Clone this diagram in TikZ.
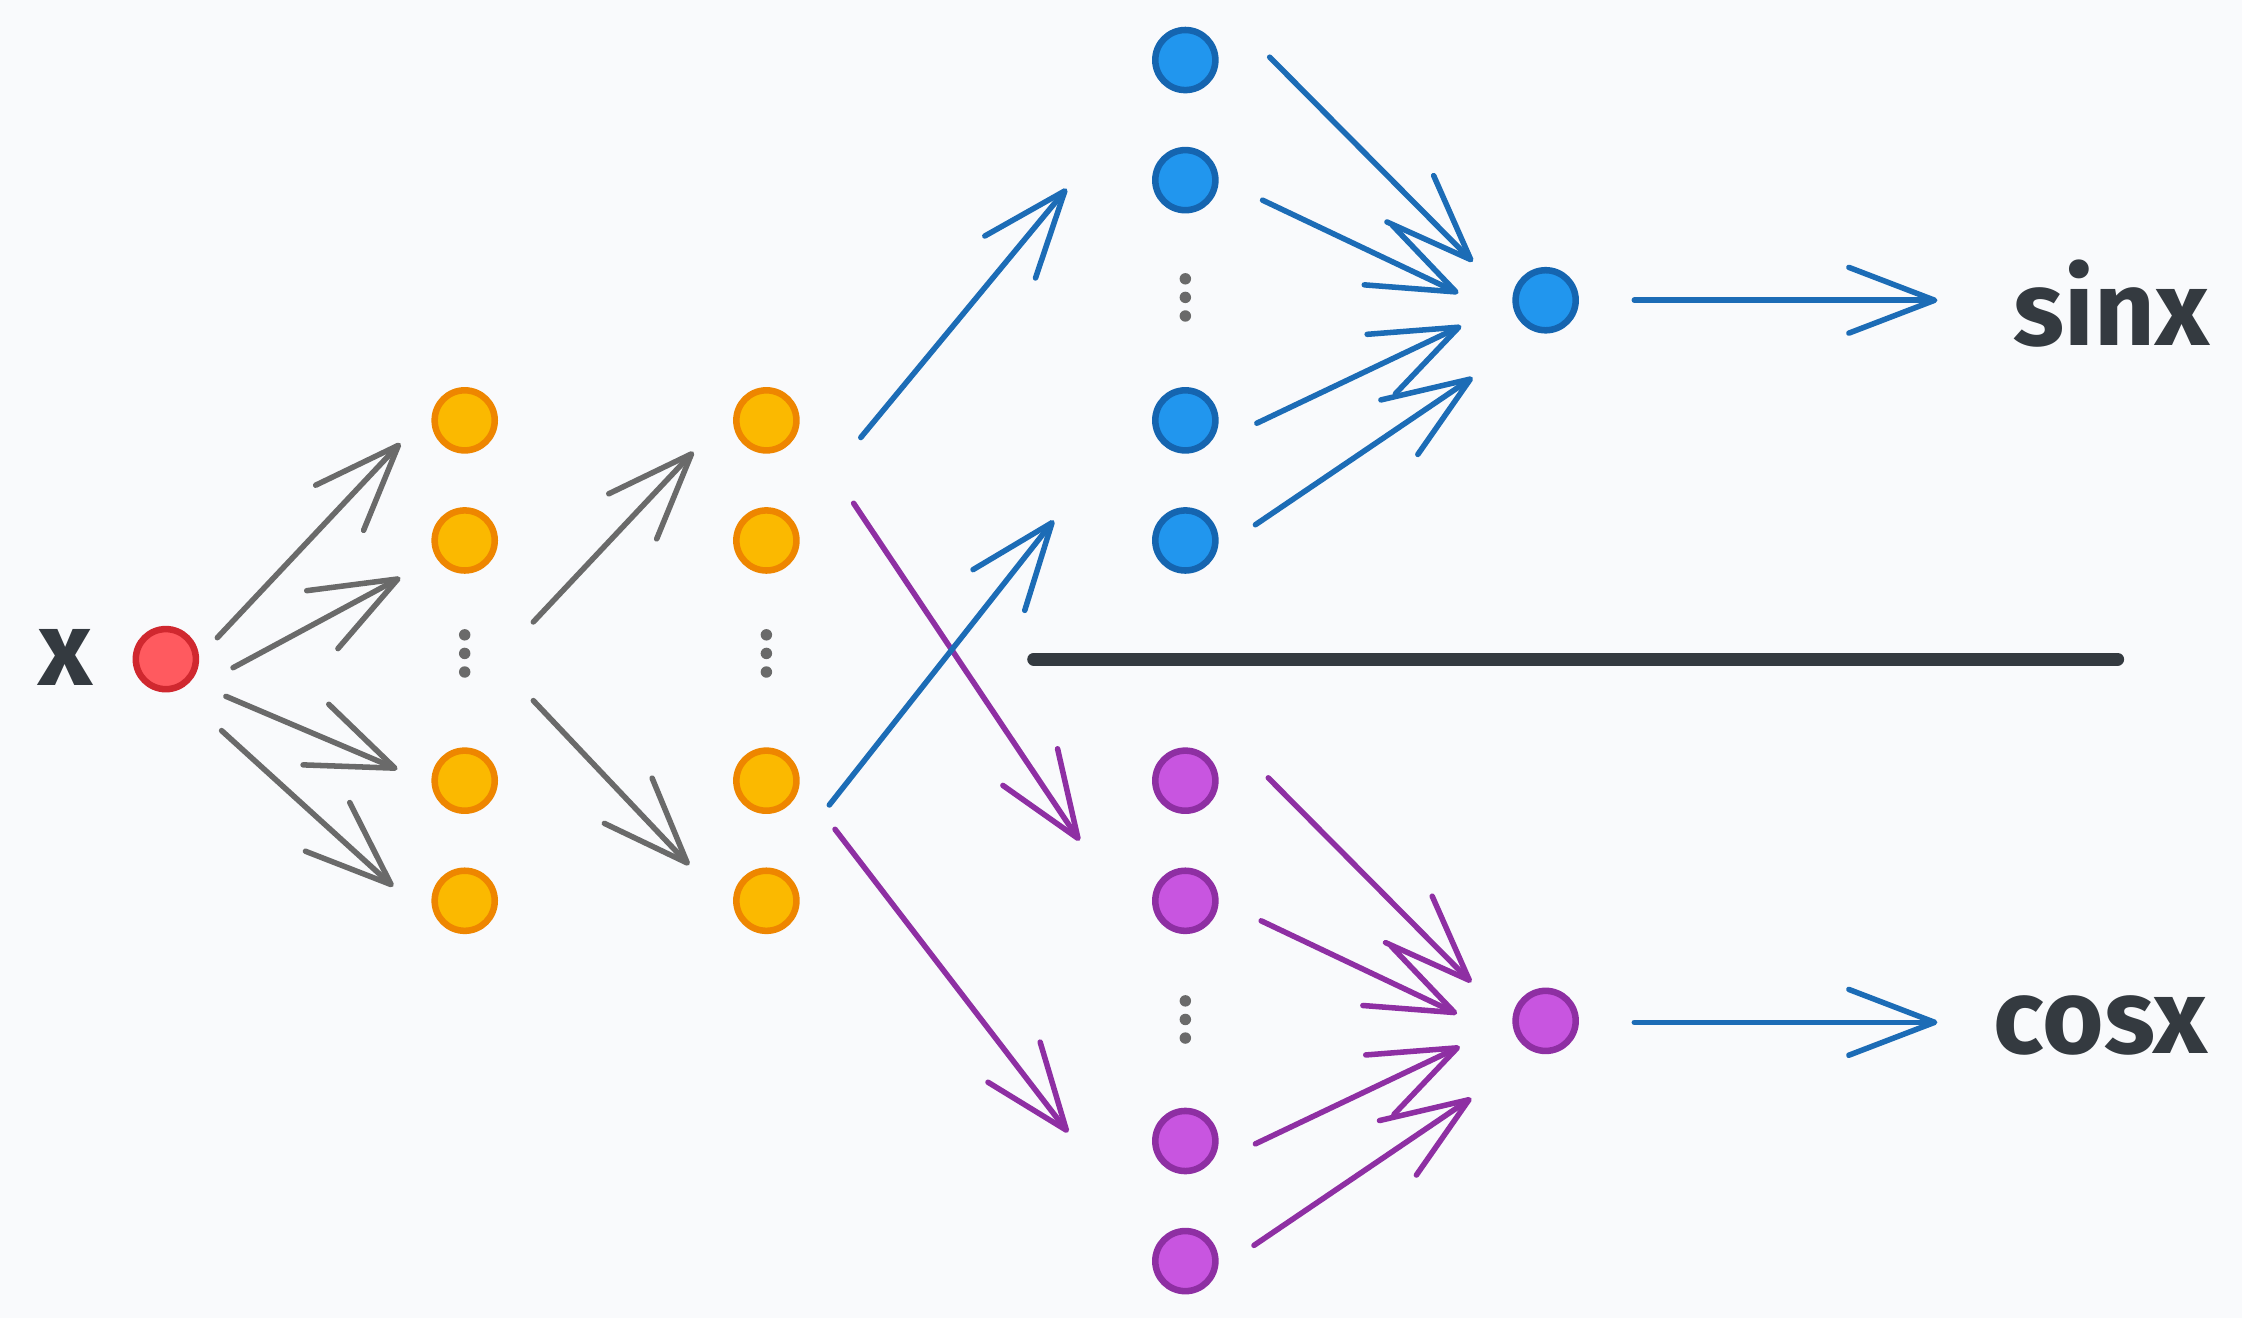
\documentclass[tikz,border=0pt]{standalone}
\usepackage{fontspec}
\setmainfont{Fira Sans}
\usetikzlibrary{arrows.meta}
\definecolor{bg}{HTML}{F9FAFC}
\definecolor{gr}{HTML}{6A6A6A}
\definecolor{bl}{HTML}{1C6CB6}
\definecolor{pu}{HTML}{8E2FA3}
\definecolor{dk}{HTML}{343A40}
\definecolor{rf}{HTML}{FF5A5F}\definecolor{rb}{HTML}{D0282F}
\definecolor{yf}{HTML}{FBB900}\definecolor{yb}{HTML}{EE8600}
\definecolor{bf}{HTML}{2196EE}\definecolor{bb}{HTML}{1565B0}
\definecolor{pf}{HTML}{C855E0}\definecolor{pb}{HTML}{8E2FA3}
\begin{document}
\begin{tikzpicture}[x=0.01cm,y=-0.01cm,
  nd/.style={circle,minimum size=0.42cm,inner sep=0pt,line width=1.3pt},
  rd/.style={nd,fill=rf,draw=rb},
  ye/.style={nd,fill=yf,draw=yb},
  bu/.style={nd,fill=bf,draw=bb},
  pp/.style={nd,fill=pf,draw=pb},
  dots/.style={inner sep=0pt,minimum width=0.1cm,minimum height=0.3cm},
  ar/.style={line width=1.1pt,line cap=round,-{Straight Barb[length=0.6cm,width=0.46cm,line width=1.1pt,round]}},
  txt/.style={text=dk,font=\fontsize{21}{21}\selectfont\bfseries}]
\fill[bg] (0,0) rectangle (1568,922);
\useasboundingbox (0,0) rectangle (1568,922);
\node[txt] (x) at (46,460) {x};
\node[rd] (r) at (116,461) {};
\foreach \n/\y in {a/294,b/378,c/546,d/630}{
  \node[ye] (y1\n) at (325,\y) {};
  \node[ye] (y2\n) at (536,\y) {};
  \node[bu] (b\n) at (829,\y-252) {};
  \node[pp] (p\n) at (829,\y+252) {};
}
\node[dots] (d1) at (325,457) {}; \node[dots] (d2) at (536,457) {};
\node[dots] (d3) at (829,208) {}; \node[dots] (d4) at (829,713) {};
\foreach \d in {d1,d2,d3,d4}{\foreach \k in {-13,0,13}{\fill[gr] ([yshift=-\k*0.01cm]\d.center) circle (0.04cm);}}
\node[bu] (bo) at (1081,210) {};
\node[pp] (po) at (1081,714) {};
\node[txt,anchor=west] (sin) at (1396,212) {sinx};
\node[txt,anchor=west] (cos) at (1382,717) {cosx};
\draw[dk,line width=2.6pt,line cap=round] (723,461) coordinate (l1) -- (1481,461) coordinate (l2);
\foreach \i/\sx/\sy/\ex/\ey in {1/152/446/280/310, 2/163/467/280/404, 3/158/487/278/538, 4/155/511/275/620, 5/373/435/485/316, 6/373/490/482/605}{
  \coordinate (gs\i) at (\sx,\sy); \coordinate (ge\i) at (\ex,\ey);
  \draw[ar,gr] (gs\i) -- (ge\i);
}
\foreach \i/\sx/\sy/\ex/\ey/\c in {1/602/306/746/132/bl, 2/597/352/755/588/pu, 3/580/563/737/364/bl, 4/584/580/747/792/pu}{
  \coordinate (cs\i) at (\sx,\sy); \coordinate (ce\i) at (\ex,\ey);
  \draw[ar,\c] (cs\i) -- (ce\i);
}
\foreach \i/\sx/\sy/\ex/\ey in {1/888/40/1030/183, 2/883/140/1020/205, 3/879/296/1022/228, 4/878/367/1030/264}{
  \coordinate (bs\i) at (\sx,\sy); \coordinate (be\i) at (\ex,\ey);
  \draw[ar,bl] (bs\i) -- (be\i);
  \coordinate (ps\i) at (\sx-1,\sy+504); \coordinate (pe\i) at (\ex-1,\ey+504);
  \draw[ar,pu] (ps\i) -- (pe\i);
}
\coordinate (os) at (1143,210); \coordinate (oe) at (1355,210);
\coordinate (qs) at (1143,715); \coordinate (qe) at (1355,715);
\draw[ar,bl] (os) -- (oe);
\draw[ar,bl] (qs) -- (qe);
\end{tikzpicture}
\end{document}
